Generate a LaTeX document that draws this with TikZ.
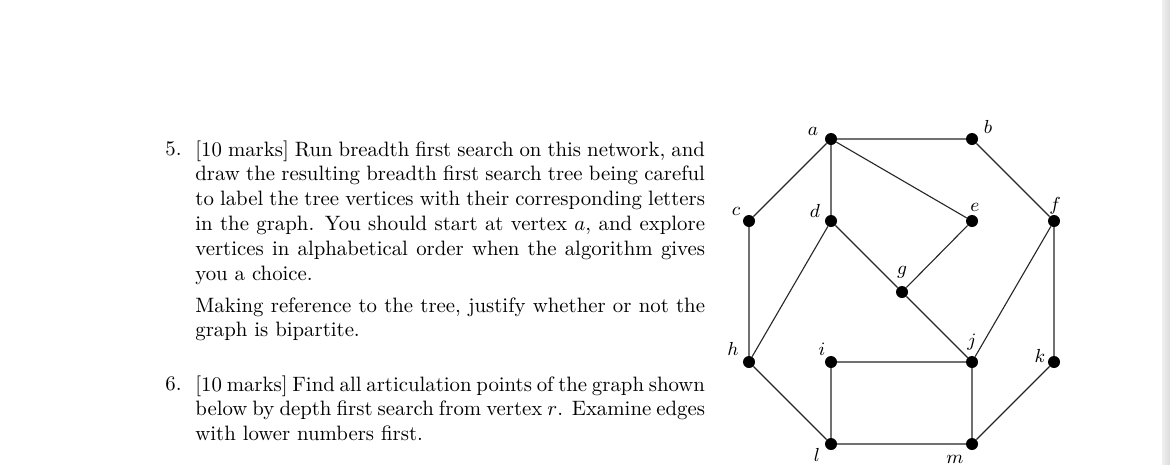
\documentclass[tikz,border=0pt]{standalone}
\begin{document}
\begin{tikzpicture}[x=1pt,y=-1pt,
  vtx/.style={circle,fill=black,inner sep=0pt,minimum size=12pt},
  edge/.style={line width=1.1pt,draw=black!85},
  lab/.style={scale=2.1,transform shape,font=\small},
  para/.style={anchor=north west,inner sep=0pt,text width=245pt,align=justify,scale=2.08,transform shape},
  num/.style={anchor=north west,inner sep=0pt,scale=2.08,transform shape}]
\useasboundingbox (0,0) rectangle (1170,464);
\fill[white] (0,0) rectangle (1170,464);
\shade[left color=black!6,right color=black!14] (1162,0) rectangle (1170,464);
% text
\node[para] (q5) at (195,140) {[10 marks] Run breadth first search on this network, and draw the resulting breadth first search tree being careful to label the tree vertices with their corresponding letters in the graph. You should start at vertex $a$, and explore vertices in alphabetical order when the algorithm gives you a choice.\par\vspace{3pt}Making reference to the tree, justify whether or not the graph is bipartite.};
\node[num] (n5) at (165,141) {5.};
\node[para] (q6) at (195,375) {[10 marks] Find all articulation points of the graph shown below by depth first search from vertex $r$. Examine edges with lower numbers first.};
\node[num] (n6) at (165,376) {6.};
% graph
\node[vtx] (a) at (831,139) {};
\node[vtx] (b) at (972,139) {};
\node[vtx] (c) at (749,221) {};
\node[vtx] (d) at (831,221) {};
\node[vtx] (e) at (972,221) {};
\node[vtx] (f) at (1054,221) {};
\node[vtx] (g) at (902,292) {};
\node[vtx] (h) at (749,362) {};
\node[vtx] (i) at (831,362) {};
\node[vtx] (j) at (972,362) {};
\node[vtx] (k) at (1054,362) {};
\node[vtx] (l) at (831,444) {};
\node[vtx] (m) at (972,444) {};
\foreach \n/\p in {a/{813,131},b/{988,127},c/{736,211},d/{815,211},e/{975,207},f/{1055,206},g/{902,272},h/{733,349},i/{822,349},j/{972,342},k/{1040,356},l/{817,455},m/{955,459}}
  \node[lab] at (\p) {$\n$};
\draw[edge] (a)--(b) (a)--(c) (a)--(d) (a)--(e) (b)--(f) (c)--(h) (d)--(h) (d)--(g) (e)--(g) (g)--(j) (f)--(j) (f)--(k) (h)--(l) (i)--(j) (i)--(l) (j)--(m) (l)--(m) (k)--(m);
\end{tikzpicture}
\end{document}
